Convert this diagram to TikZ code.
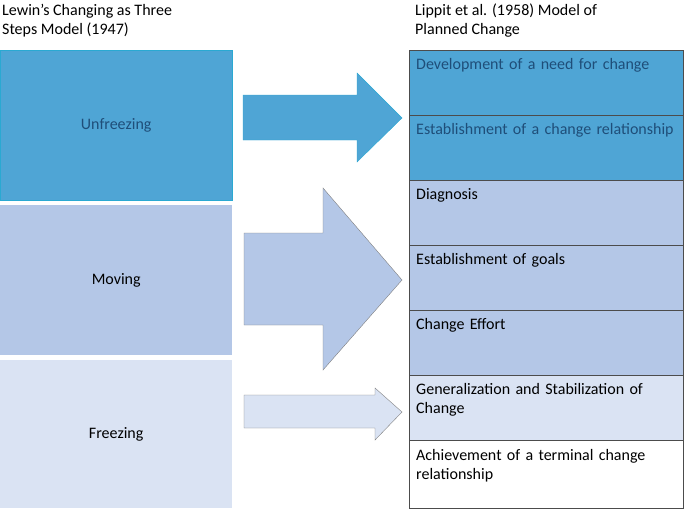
\documentclass[tikz,border=0pt]{standalone}
\usepackage{fontspec}
\setmainfont{Carlito}
\definecolor{darkblue}{HTML}{4FA5D5}
\definecolor{midblue}{HTML}{B4C7E7}
\definecolor{lightblue}{HTML}{DAE3F3}
\definecolor{edgecyan}{HTML}{2AA9D2}
\definecolor{textblue}{HTML}{1F4E79}
\begin{document}
\begin{tikzpicture}[x=1pt,y=-1pt,
    stage/.style = {minimum width=232pt, inner sep=0pt, anchor=north west,
                font=\fontsize{16}{19}\selectfont},
    substep/.style = {draw=black!70, minimum width=274pt, minimum height=65pt,
                inner xsep=7pt, inner ysep=5pt, anchor=north west, align=left,
                text width=260pt, text depth=38pt,
                font=\fontsize{16}{19}\selectfont},
    title/.style = {anchor=north west, align=left, inner sep=2pt,
                font=\fontsize{16}{19}\selectfont}
                    ]
        \useasboundingbox (0,0) rectangle (685,511);
        % headers
        \node[title] (lt) at (0,2) {Lewin’s Changing as Three\\Steps Model (1947)};
        \node[title] (rt) at (413,2) {Lippit et al. (1958) Model of\\Planned Change};
        % left column
        \node[stage, fill=darkblue, draw=edgecyan, minimum height=150pt, text=textblue] (unf) at (0,50) {Unfreezing};
        \node[stage, fill=midblue, minimum height=150pt] (mov) at (0,205) {Moving};
        \node[stage, fill=lightblue, minimum height=148pt] (fre) at (0,360) {Freezing};
        % right column
        \foreach \y/\c/\k/\t/\n in {50/darkblue/textblue/{Development of a need for change}/r1,
                                 115/darkblue/textblue/{Establishment of a change relationship}/r2,
                                 180/midblue/black/{Diagnosis}/r3,
                                 245/midblue/black/{Establishment of goals}/r4,
                                 310/midblue/black/{Change Effort}/r5,
                                 375/lightblue/black/{Generalization and Stabilization of Change}/r6}
            \node[substep, fill=\c, text=\k] at (409,\y) (\n) {\t};
        \node[substep, fill=white, minimum height=68pt] at (409,440) (r7) {Achievement of a terminal change relationship};
        % block arrows
        \filldraw[fill=darkblue, draw=edgecyan] (243,95) -- (357,95) -- (357,73) -- (402,118)
            -- (357,162) -- (357,140) -- (243,140) -- cycle;
        \filldraw[fill=midblue, draw=gray] (244,233) -- (323,233) -- (323,188) -- (402,280)
            -- (323,370) -- (323,325) -- (244,325) -- cycle;
        \filldraw[fill=lightblue, draw=gray] (244,395) -- (375,395) -- (375,388) -- (402,412)
            -- (375,440) -- (375,428) -- (244,428) -- cycle;
    \end{tikzpicture}
\end{document}
